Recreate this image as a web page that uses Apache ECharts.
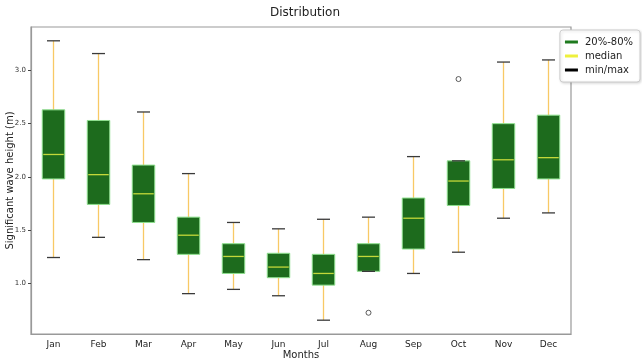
<!DOCTYPE html>
<html><head><meta charset="utf-8">
<script src="https://cdn.jsdelivr.net/npm/echarts@6/dist/echarts.min.js"></script>
<style>html,body{margin:0;padding:0;background:#fff}#c{width:642px;height:362px}</style>
</head><body><div id="c"></div>
<script>
const months = ['Jan','Feb','Mar','Apr','May','Jun','Jul','Aug','Sep','Oct','Nov','Dec'];
const minVals    = [1.24, 1.43, 1.22, 0.90, 0.94, 0.88, 0.65, 1.11, 1.09, 1.29, 1.61, 1.66];
const q20Vals    = [1.98, 1.74, 1.57, 1.27, 1.09, 1.05, 0.98, 1.11, 1.32, 1.73, 1.89, 1.98];
const medianVals = [2.21, 2.02, 1.84, 1.45, 1.25, 1.15, 1.09, 1.25, 1.61, 1.96, 2.16, 2.18];
const q80Vals    = [2.63, 2.53, 2.11, 1.62, 1.37, 1.28, 1.27, 1.37, 1.80, 2.15, 2.50, 2.58];
const maxVals    = [3.28, 3.16, 2.61, 2.03, 1.57, 1.51, 1.60, 1.62, 2.19, 2.15, 3.08, 3.10];
const outliers   = [['Aug', 0.72], ['Oct', 2.92]];
const yTicks = [1.0, 1.5, 2.0, 2.5, 3.0];

const boxData = months.map((m, i) => [i, minVals[i], q20Vals[i], medianVals[i], q80Vals[i], maxVals[i]]);

const chart = echarts.init(document.getElementById('c'));
chart.setOption({
  animation: false,
  title: { text: 'Distribution', left: 300, top: 2, textAlign: 'center',
    textStyle: { fontSize: 12, fontWeight: 'normal', color: '#222', fontFamily: 'DejaVu Sans' } },
  grid: { left: 31, top: 27, right: 71, bottom: 28, show: true, borderColor: '#999', borderWidth: 1.2,
    containLabel: false, outerBoundsMode: 'none' },
  legend: {
    right: 2, top: 30, orient: 'vertical', itemGap: 4, itemWidth: 13, itemHeight: 3,
    padding: [7, 7, 7, 5],
    backgroundColor: '#fff', borderColor: '#ccc', borderWidth: 1, borderRadius: 3,
    shadowColor: 'rgba(0,0,0,0.15)', shadowBlur: 3, shadowOffsetX: 1, shadowOffsetY: 1,
    textStyle: { fontSize: 10, color: '#222', fontFamily: 'DejaVu Sans', padding: [0,0,0,2] },
    data: [
      { name: '20%-80%', icon: 'rect' },
      { name: 'median', icon: 'rect' },
      { name: 'min/max', icon: 'rect' }
    ]
  },
  xAxis: {
    type: 'category', data: months,
    name: 'Months', nameLocation: 'middle', nameGap: 16, nameMoveOverlap: false,
    nameTextStyle: { fontSize: 10, color: '#222', fontFamily: 'DejaVu Sans' },
    axisLine: { lineStyle: { color: '#999', width: 1.2 } },
    axisTick: { alignWithLabel: true, length: 3, lineStyle: { color: '#444' } },
    axisLabel: { fontSize: 9, color: '#222', margin: 6, fontFamily: 'DejaVu Sans' }
  },
  yAxis: {
    type: 'value', min: 0.52, max: 3.41,
    name: 'Significant wave height (m)', nameLocation: 'middle', nameGap: 16, nameMoveOverlap: false,
    nameTextStyle: { fontSize: 10, color: '#222', fontFamily: 'DejaVu Sans' },
    axisLine: { show: true, lineStyle: { color: '#999', width: 1.2 } },
    axisTick: { show: true, length: 3, customValues: yTicks, lineStyle: { color: '#444' } },
    axisLabel: { fontSize: 7, color: '#333', margin: 5, customValues: yTicks,
      formatter: v => v.toFixed(1), fontFamily: 'DejaVu Sans' },
    splitLine: { show: false }
  },
  series: [
    {
      type: 'custom', name: 'box', data: boxData,
      encode: { x: 0, y: [1, 2, 3, 4, 5] },
      renderItem: function (params, api) {
        const idx = api.value(0);
        const band = api.size([1, 0])[0];
        const pMin = api.coord([idx, api.value(1)]);
        const pQ1 = api.coord([idx, api.value(2)]);
        const pMed = api.coord([idx, api.value(3)]);
        const pQ3 = api.coord([idx, api.value(4)]);
        const pMax = api.coord([idx, api.value(5)]);
        const x = pMed[0];
        const bw = band * 0.5, cw = band * 0.29;
        const wh = { stroke: '#f8c965', lineWidth: 1.3 };
        const cap = { stroke: '#3a3a3a', lineWidth: 1.3 };
        return {
          type: 'group',
          children: [
            { type: 'line', shape: { x1: x, y1: pMin[1], x2: x, y2: pQ1[1] }, style: wh },
            { type: 'line', shape: { x1: x, y1: pQ3[1], x2: x, y2: pMax[1] }, style: wh },
            { type: 'rect', shape: { x: x - bw / 2, y: pQ3[1], width: bw, height: pQ1[1] - pQ3[1] },
              style: { fill: '#1d6b1d', stroke: '#8fe08f', lineWidth: 1 } },
            { type: 'line', shape: { x1: x - bw / 2 + 1, y1: pMed[1], x2: x + bw / 2 - 1, y2: pMed[1] },
              style: { stroke: '#c4d83a', lineWidth: 1.3 } },
            { type: 'line', shape: { x1: x - cw / 2, y1: pMin[1], x2: x + cw / 2, y2: pMin[1] }, style: cap },
            { type: 'line', shape: { x1: x - cw / 2, y1: pMax[1], x2: x + cw / 2, y2: pMax[1] }, style: cap }
          ]
        };
      }
    },
    {
      type: 'scatter', name: 'outliers', data: outliers, symbol: 'circle', symbolSize: 5,
      itemStyle: { color: '#fff', borderColor: '#333', borderWidth: 1 }
    },
    { type: 'line', name: '20%-80%', data: [], itemStyle: { color: '#1e7a1e' }, lineStyle: { color: '#1e7a1e' } },
    { type: 'line', name: 'median', data: [], itemStyle: { color: '#eef03c' }, lineStyle: { color: '#eef03c' } },
    { type: 'line', name: 'min/max', data: [], itemStyle: { color: '#000' }, lineStyle: { color: '#000' } }
  ]
});
</script></body></html>
